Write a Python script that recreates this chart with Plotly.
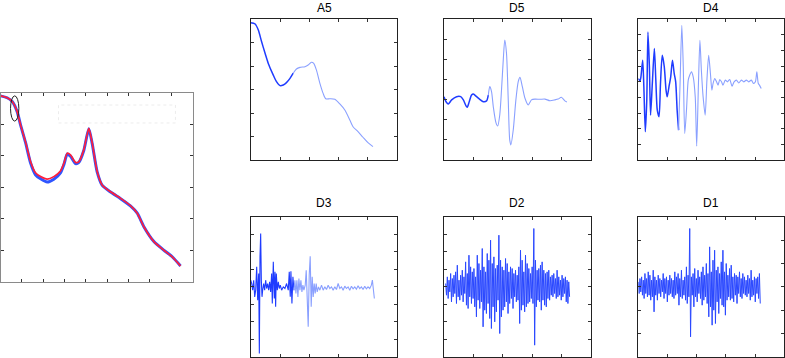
import numpy as np
import plotly.graph_objects as go

# ---------------- data ----------------
# left panel: original (blue) and reconstructed (red) spectrum
spec_x = [0, 0.31, 0.55, 0.78, 0.94, 1.17, 1.41, 1.64, 1.88, 2.19, 2.5, 2.81, 2.97, 3.13, 3.28,
          3.52, 3.67, 3.9, 4.14, 4.3, 4.53, 4.77, 5.16, 5.63, 6.09, 6.41, 6.72, 7.19, 7.65, 8.05, 8.44]
spec_red = [5.90, 5.84, 5.72, 5.40, 4.98, 4.45, 3.81, 3.46, 3.34, 3.26, 3.34, 3.52, 3.76, 4.08, 4.03,
            3.79, 3.81, 4.18, 4.87, 4.40, 3.50, 3.07, 2.86, 2.65, 2.42, 2.18, 1.75, 1.28, 1.01, 0.80, 0.51]
spec_blue = [5.90, 5.84, 5.72, 5.40, 4.98, 4.43, 3.77, 3.40, 3.27, 3.17, 3.26, 3.46, 3.72, 4.06, 3.99,
             3.75, 3.79, 4.16, 4.86, 4.38, 3.49, 3.06, 2.85, 2.64, 2.41, 2.18, 1.75, 1.28, 1.01, 0.80, 0.51]

# A5 approximation
a5_x = [0.0, 0.15, 0.26, 0.37, 0.49, 0.60, 0.77, 0.88, 1.0, 1.11, 1.22, 1.34, 1.45, 1.56, 1.68, 1.85,
        1.96, 2.07, 2.15, 2.24, 2.36, 2.47, 2.56, 2.70, 2.87, 3.04, 3.21, 3.38, 3.49, 3.66, 3.83, 4.0, 4.17]
a5_y = [5.85, 5.80, 5.54, 5.05, 4.55, 4.12, 3.62, 3.34, 3.17, 3.20, 3.30, 3.48, 3.70, 3.88, 3.95, 3.98,
        4.05, 4.17, 4.12, 3.84, 3.27, 2.84, 2.61, 2.61, 2.59, 2.39, 2.13, 1.71, 1.42, 1.21, 0.97, 0.74, 0.57]

# D5 detail
d5_x = [0, 0.07, 0.15, 0.26, 0.43, 0.57, 0.66, 0.75, 0.79, 0.86, 0.94, 1.0, 1.11, 1.22, 1.34, 1.45,
        1.51, 1.56, 1.62, 1.68, 1.77, 1.83, 1.90, 1.96, 2.02, 2.07, 2.13, 2.19, 2.24, 2.28, 2.36, 2.45,
        2.53, 2.59, 2.67, 2.76, 2.87, 2.98, 3.10, 3.27, 3.44, 3.61, 3.78, 3.89, 4.0, 4.12, 4.19]
d5_y = [3.15, 2.90, 2.79, 2.99, 3.15, 3.15, 2.99, 2.69, 2.62, 2.90, 3.23, 3.28, 3.15, 3.02, 2.90, 2.94,
        3.23, 3.65, 3.40, 2.65, 1.86, 1.69, 2.24, 3.48, 4.98, 5.97, 5.31, 2.99, 1.0, 0.75, 1.49, 2.99,
        3.90, 4.11, 3.65, 3.07, 2.74, 2.99, 3.03, 3.02, 3.03, 2.95, 2.99, 3.03, 3.12, 2.94, 2.89]

# D4 detail
d4_x = [0.0, 0.06, 0.09, 0.15, 0.19, 0.24, 0.29, 0.33, 0.38, 0.42, 0.48, 0.55, 0.60, 0.65, 0.71, 0.76,
        0.82, 0.89, 0.95, 0.99, 1.05, 1.11, 1.17, 1.23, 1.28, 1.33, 1.38, 1.43, 1.49, 1.54, 1.59, 1.65,
        1.71, 1.76, 1.82, 1.88, 1.95, 2.0, 2.06, 2.11, 2.16, 2.22, 2.29, 2.35, 2.41, 2.47, 2.52, 2.56,
        2.62, 2.68, 2.73, 2.79, 2.85, 2.90, 2.98, 3.05, 3.13, 3.21, 3.28, 3.36, 3.44, 3.53, 3.61, 3.70,
        3.78, 3.87, 3.95, 4.01, 4.06, 4.11, 4.15, 4.21]
d4_y = [5.21, 5.06, 5.32, 6.38, 4.68, 1.81, 3.83, 8.19, 5.96, 2.87, 4.89, 7.13, 5.11, 3.19, 2.77, 4.89,
        6.70, 5.96, 4.47, 4.04, 4.68, 5.32, 6.38, 5.53, 5.0, 3.19, 1.91, 4.89, 8.62, 5.96, 1.70, 3.19,
        5.11, 5.42, 5.64, 5.32, 4.04, 0.89, 4.89, 7.66, 5.74, 4.04, 2.87, 5.11, 6.70, 5.53, 4.47, 4.89,
        5.21, 5.0, 4.79, 5.15, 5.0, 4.79, 5.11, 5.0, 5.15, 4.72, 5.0, 5.11, 4.93, 5.11, 5.0, 5.11,
        5.0, 5.11, 4.89, 5.0, 5.64, 4.89, 4.79, 4.57]

# D3 detail (sample position, amplitude)
d3_x = [0, 3, 6, 9, 12, 15, 18, 21, 24, 26, 28, 30, 32, 34, 36, 39, 42, 45, 48, 51, 54, 57, 60, 63,
        65, 68, 71, 73, 75, 77, 80, 83, 86, 89, 93, 98, 103, 108, 113, 116, 119, 121, 124, 127, 130,
        133, 136, 139, 142, 145, 148, 151, 154, 157, 160, 164, 167, 170, 173, 176, 179, 182, 185, 188,
        191, 194, 197, 200, 204, 208, 213, 218, 223, 228, 233, 238, 243, 248, 253, 258, 263, 268, 273,
        278, 283, 288, 293, 298, 303, 308, 313, 318, 323, 328, 333, 338, 343, 348, 353, 358, 363, 366,
        369, 372]
d3_y = [20, 10, -10, 20, -30, -10, 60, -40, 40, -200, 90, 160, 20, -30, -10, 10, -10, 20, -5, 10, -10,
        15, -15, 40, -50, 75, -35, 45, -60, 40, -10, 15, -5, 5, -10, 0, -5, 10, -10, 45, -30, 47, -50,
        30, -10, 20, -20, 20, -30, 25, -10, 20, -15, 5, -10, 5, 50, -30, -120, 35, 92, -60, 30, -30, 10,
        -20, 10, -15, 0, -10, 5, -10, 0, -8, 5, -5, 0, -10, 0, -8, 10, -5, 0, -10, 2, -5, 0, -10, 2, -6,
        0, -7, 3, -5, 0, -8, 2, -6, 0, -5, 5, 20, -10, -35]

# D2 detail (uniform samples)
d2_y = [10, -25, 30, -35, 20, -15, 40, -45, 25, -30, 35, -20, 45, -50, 65, -30, 20, -40, 35, -25, 50, -45, 30, -20,
        75, -55, 40, -65, 95, -30, 60, -50, 45, -35, 55, -60,
        30, -90, 95, -40, 70, -65, 50, -45, 115, -120, 60, -70,
        45, -80, 100, -50, 80, -95, 140, -125, 70, -60, 90, -105, 55, -75, 65, -40,
        155, -140, 80, -90, 60, -70,
        50, -60, 85, -45, 70, -80, 45, -50, 60, -35, 55, -65, 40, -30, 50, -45, 35, -40,
        60, -110, 110, -70, 80, -55, 45, -75, 95, -60, 70, -50, 55, -45, 40, -35,
        60, -50, 175, -175, 80, -60, 50, -40,
        55, -45, 65, -70, 75, -40, 50, -55, 40, -60, 45, -35, 50, -40, 30, -25,
        35, -30, 40, -20, 25, -35, 50, -30, 30, -25, 20, -40, 35, -30, 25, -20, 30, -45, 20, -50, 15, -30]

# D1 detail (uniform samples)
d1_y = [15, -20, 25, -15, 30, -25, 20, -35, 40, -20, 25, -30, 45, -25, 35, -40, 20, -30, 50, -75,
        30, -25, 20, -40, 35, -20, 25, -30, 20, -15, 40, -35, 25, -20, 30, -45, 20, -25, 35, -20,
        25, -30, 20, -35, 45, -25, 30, -20, 40, -55, 25, -30, 50, -35, 20, -25, 30, -40, 60, -50, 35, -30, 175, -150,
        30, -25, 40, -60, 55, -30, 25, -45, 50, -20, 30, -35, 45, -55, 60, -40, 35, -30, 70, -50, 40, -90, 120, -60,
        45, -115, 80, -70, 110, -110, 50, -45, 60, -80, 40, -35, 75, -55, 110, -60, 45, -85, 70, -40,
        35, -30, 55, -40, 65, -35, 30, -45, 40, -25, 35, -50, 30, -20, 45, -30, 25, -35, 40, -20,
        30, -25, 20, -30, 35, -20, 25, -40, 50, -30, 20, -25, 30, -45, 25, -20, 30, -35, 40, -50]

titles = ["A5", "D5", "D4", "D3", "D2", "D1"]

# ---------------- styling ----------------
DARK = "#1f3cff"
LIGHT = "#8aa0ff"
MID = "#2a48ff"

fig = go.Figure()


def split_line(x, y, k, xa, ya, shape="spline", w=1.5):
    fig.add_trace(go.Scatter(x=x[:k + 1], y=y[:k + 1], mode="lines", xaxis=xa, yaxis=ya,
                             line=dict(color=DARK, width=w, shape=shape, smoothing=0.7),
                             showlegend=False, hoverinfo="skip"))
    fig.add_trace(go.Scatter(x=x[k:], y=y[k:], mode="lines", xaxis=xa, yaxis=ya,
                             line=dict(color=LIGHT, width=1.1, shape=shape, smoothing=0.7),
                             showlegend=False, hoverinfo="skip"))


# left panel
fig.add_trace(go.Scatter(x=spec_x, y=spec_blue, mode="lines", xaxis="x", yaxis="y",
                         line=dict(color="#2f55ff", width=3, shape="spline", smoothing=0.6),
                         showlegend=False, hoverinfo="skip"))
fig.add_trace(go.Scatter(x=spec_x, y=spec_red, mode="lines", xaxis="x", yaxis="y",
                         line=dict(color="#ff1f3a", width=1.7, shape="spline", smoothing=0.6),
                         showlegend=False, hoverinfo="skip"))

split_line(a5_x, a5_y, 12, "x2", "y2")
split_line(d5_x, d5_y, 16, "x3", "y3")
split_line(d4_x, d4_y, 26, "x4", "y4")
split_line(d3_x, d3_y, 44, "x5", "y5", shape="linear", w=1.1)

d2_x = list(np.arange(len(d2_y)) * 2.5)
d1_x = list(np.arange(len(d1_y)) * 2.5)
fig.add_trace(go.Scatter(x=d2_x, y=d2_y, mode="lines", xaxis="x6", yaxis="y6",
                         line=dict(color=MID, width=1), showlegend=False, hoverinfo="skip"))
fig.add_trace(go.Scatter(x=d1_x, y=d1_y, mode="lines", xaxis="x7", yaxis="y7",
                         line=dict(color=MID, width=1), showlegend=False, hoverinfo="skip"))


def ax(domain, rng, dtick, tick0=0.0, color="#222", anchor=None):
    d = dict(domain=domain, range=rng, dtick=dtick, tick0=tick0, showline=True, mirror="ticks",
             linecolor=color, linewidth=1, ticks="inside", ticklen=3, tickcolor="#333",
             showticklabels=False, showgrid=False, zeroline=False, fixedrange=True)
    if anchor:
        d["anchor"] = anchor
    return d


W, H = 785.0, 358.0


def dx(a, b):
    return [a / W, b / W]


def dy(top, bot):
    return [1 - bot / H, 1 - top / H]


cols = [(250.7, 397.3), (444.0, 590.7), (638.3, 784.3)]
top_row = (19.3, 160.0)
bot_row = (216.7, 357.0)

layout = dict(
    width=785, height=358, margin=dict(l=0, r=0, t=0, b=0),
    paper_bgcolor="white", plot_bgcolor="white", showlegend=False,
    font=dict(family="Liberation Sans, Arial, sans-serif", size=12, color="black"),
)
layout["xaxis"] = ax(dx(0.5, 192.5), [0, 9], 1, color="#8a8a8a", anchor="y")
layout["yaxis"] = ax(dy(92.7, 282.0), [0, 6], 1, color="#8a8a8a", anchor="x")

layout["xaxis2"] = ax(dx(*cols[0]), [0, 5], 1, anchor="y2")
layout["yaxis2"] = ax(dy(*top_row), [0, 6], 1, anchor="x2")
layout["xaxis3"] = ax(dx(*cols[1]), [0, 5], 1, anchor="y3")
layout["yaxis3"] = ax(dy(*top_row), [0, 7], 1, anchor="x3")
layout["xaxis4"] = ax(dx(*cols[2]), [0, 5], 1, anchor="y4")
layout["yaxis4"] = ax(dy(*top_row), [0, 9], 1, anchor="x4")

layout["xaxis5"] = ax(dx(*cols[0]), [0, 441], 88.2, anchor="y5")
layout["yaxis5"] = ax(dy(*bot_row), [-210.5, 210.5], 52.625, tick0=-210.5, anchor="x5")
layout["xaxis6"] = ax(dx(*cols[1]), [-5, 436], 88.2, tick0=-5, anchor="y6")
layout["yaxis6"] = ax(dy(*bot_row), [-210.5, 210.5], 52.625, tick0=-210.5, anchor="x6")
layout["xaxis7"] = ax(dx(*cols[2]), [0, 440], 88, anchor="y7")
layout["yaxis7"] = ax(dy(*bot_row), [-210.5, 210.5], 70.167, tick0=-210.5, anchor="x7")

annotations = []
for i, t in enumerate(titles):
    c = cols[i % 3]
    ypix = 8.3 if i < 3 else 203.3
    annotations.append(dict(text=t, x=(c[0] + c[1]) / 2 / W, y=1 - ypix / H, xref="paper", yref="paper",
                            showarrow=False, xanchor="center", yanchor="middle",
                            font=dict(size=12, color="black")))
layout["annotations"] = annotations

layout["shapes"] = [
    dict(type="circle", xref="x", yref="y", x0=0.47, x1=0.86, y0=5.10, y1=5.90,
         line=dict(color="#222", width=1)),
    dict(type="rect", xref="x", yref="y", x0=2.72, x1=8.2, y0=5.04, y1=5.61,
         line=dict(color="#ececec", width=1, dash="dot")),
]

fig.update_layout(**layout)
fig.write_html("out.html", config={"displayModeBar": False, "staticPlot": True},
               post_script="document.body.style.margin='0';document.body.style.padding='0';")
